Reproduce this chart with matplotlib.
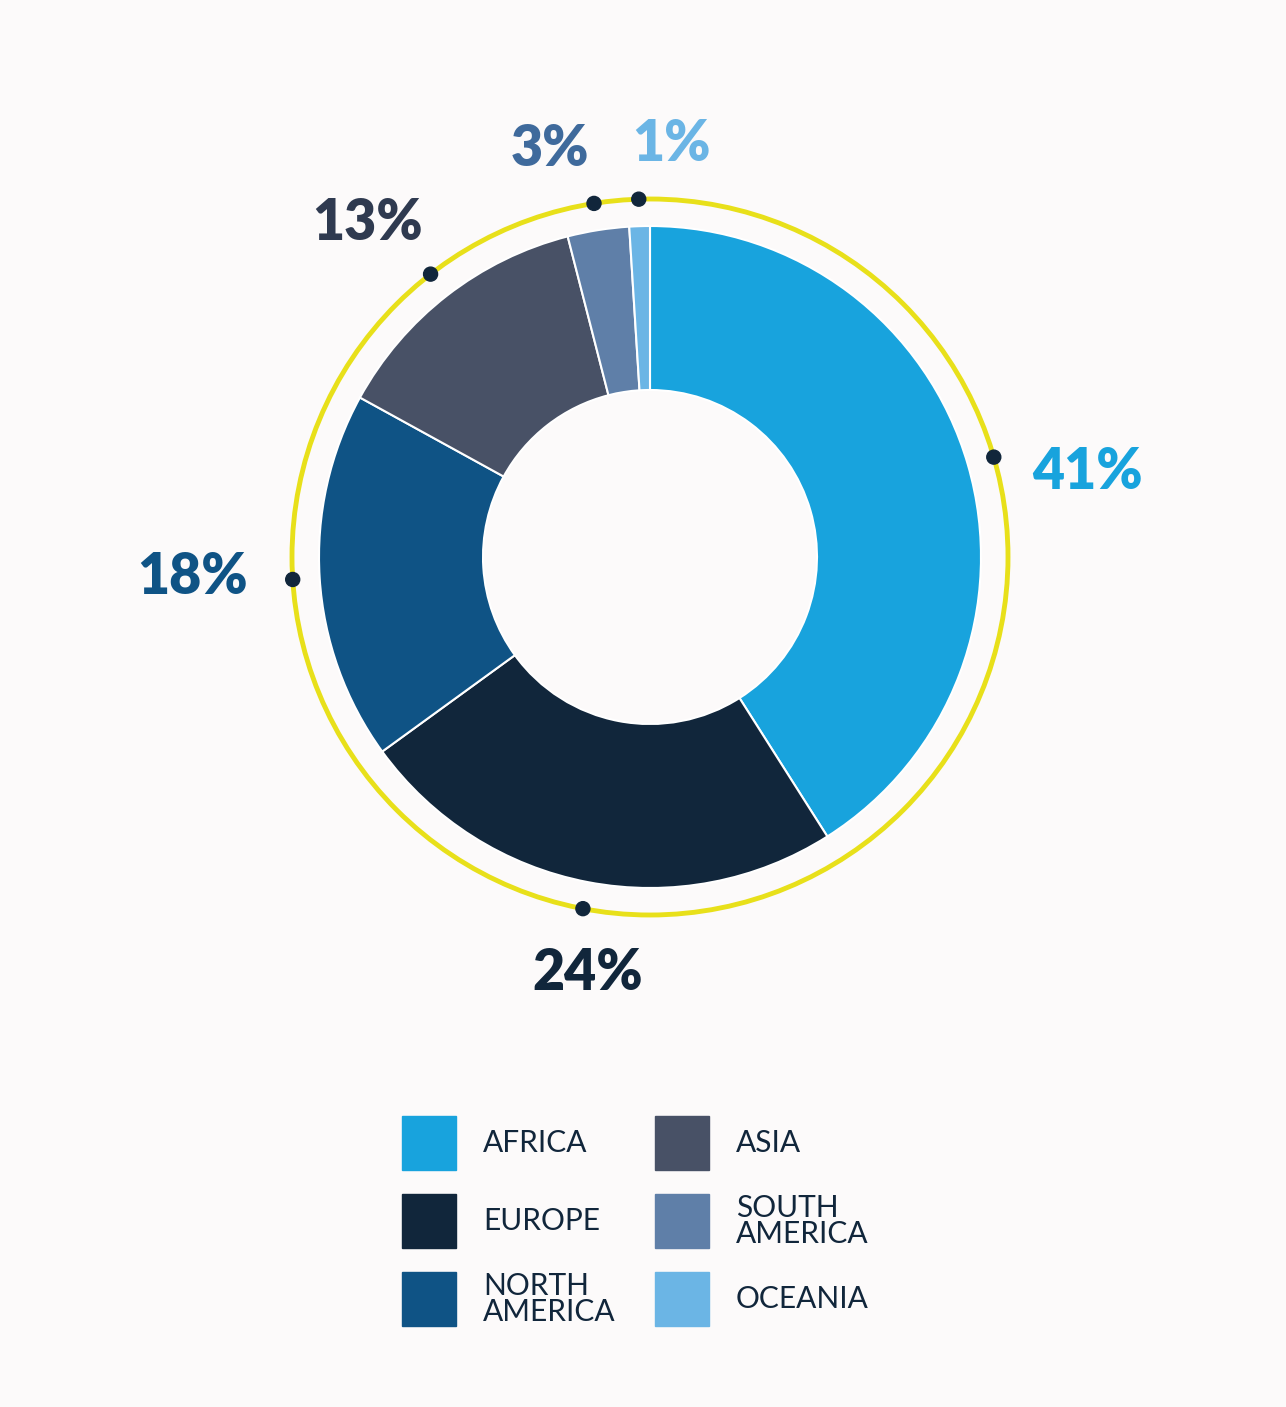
import numpy as np
import matplotlib.pyplot as plt
from matplotlib.patches import Rectangle, Circle

# Data
regions = ['AFRICA', 'EUROPE', 'NORTH\nAMERICA', 'ASIA', 'SOUTH\nAMERICA', 'OCEANIA']
shares = [41, 24, 18, 13, 3, 1]
colors = ['#18a3dd', '#11263b', '#0f5385', '#485166', '#5f7fa8', '#6bb5e5']
label_colors = ['#18a3dd', '#11263b', '#0f5385', '#2f3a50', '#3f6a9c', '#6bb5e5']

W, H = 1286, 1407
fig = plt.figure(figsize=(W / 100, H / 100), dpi=100)
fig.patch.set_facecolor('#fcfafa')
ax = fig.add_axes([0, 0, 1, 1])

cx, cy = 650, H - 557
r_out, r_in, r_ring = 331, 167, 358

ax.pie(shares, colors=colors, startangle=90, counterclock=False,
       center=(cx, cy), radius=r_out, frame=True,
       wedgeprops=dict(width=r_out - r_in, edgecolor='white', linewidth=1.5))
ax.set_xlim(0, W)
ax.set_ylim(0, H)
ax.set_aspect('equal')
ax.axis('off')

ax.add_patch(Circle((cx, cy), r_ring, fill=False, edgecolor='#e8e01a', lw=3.5))

# dots at slice midpoints, labels pushed outward
label_r = [447, 416, 458, 441, 424, 418]
nudge = [-4.6, 2.2, -1.6, 2.0, 4.6, -4.8]
start = 90
for i, s in enumerate(shares):
    mid = start - s * 3.6 / 2
    start -= s * 3.6
    a = np.radians(mid)
    ax.add_patch(Circle((cx + r_ring * np.cos(a), cy + r_ring * np.sin(a)), 7,
                        color='#11263b', zorder=5))
    b = np.radians(mid + nudge[i])
    ax.text(cx + label_r[i] * np.cos(b), cy + label_r[i] * np.sin(b), f'{s}%',
            fontsize=40, fontweight='heavy', family='Lato', color=label_colors[i],
            ha='center', va='center_baseline')

# legend
for i, (name, c) in enumerate(zip(regions, colors)):
    col, row = divmod(i, 3)
    x0 = 402 + col * 253
    yc = H - (1143 + row * 78)
    ax.add_patch(Rectangle((x0, yc - 27), 54, 54, color=c))
    ax.text(x0 + 81, yc, name, fontsize=21.5, family='Lato', color='#11263b',
            ha='left', va='center', linespacing=0.9)

fig.savefig('out.png', dpi=100, facecolor=fig.get_facecolor())
